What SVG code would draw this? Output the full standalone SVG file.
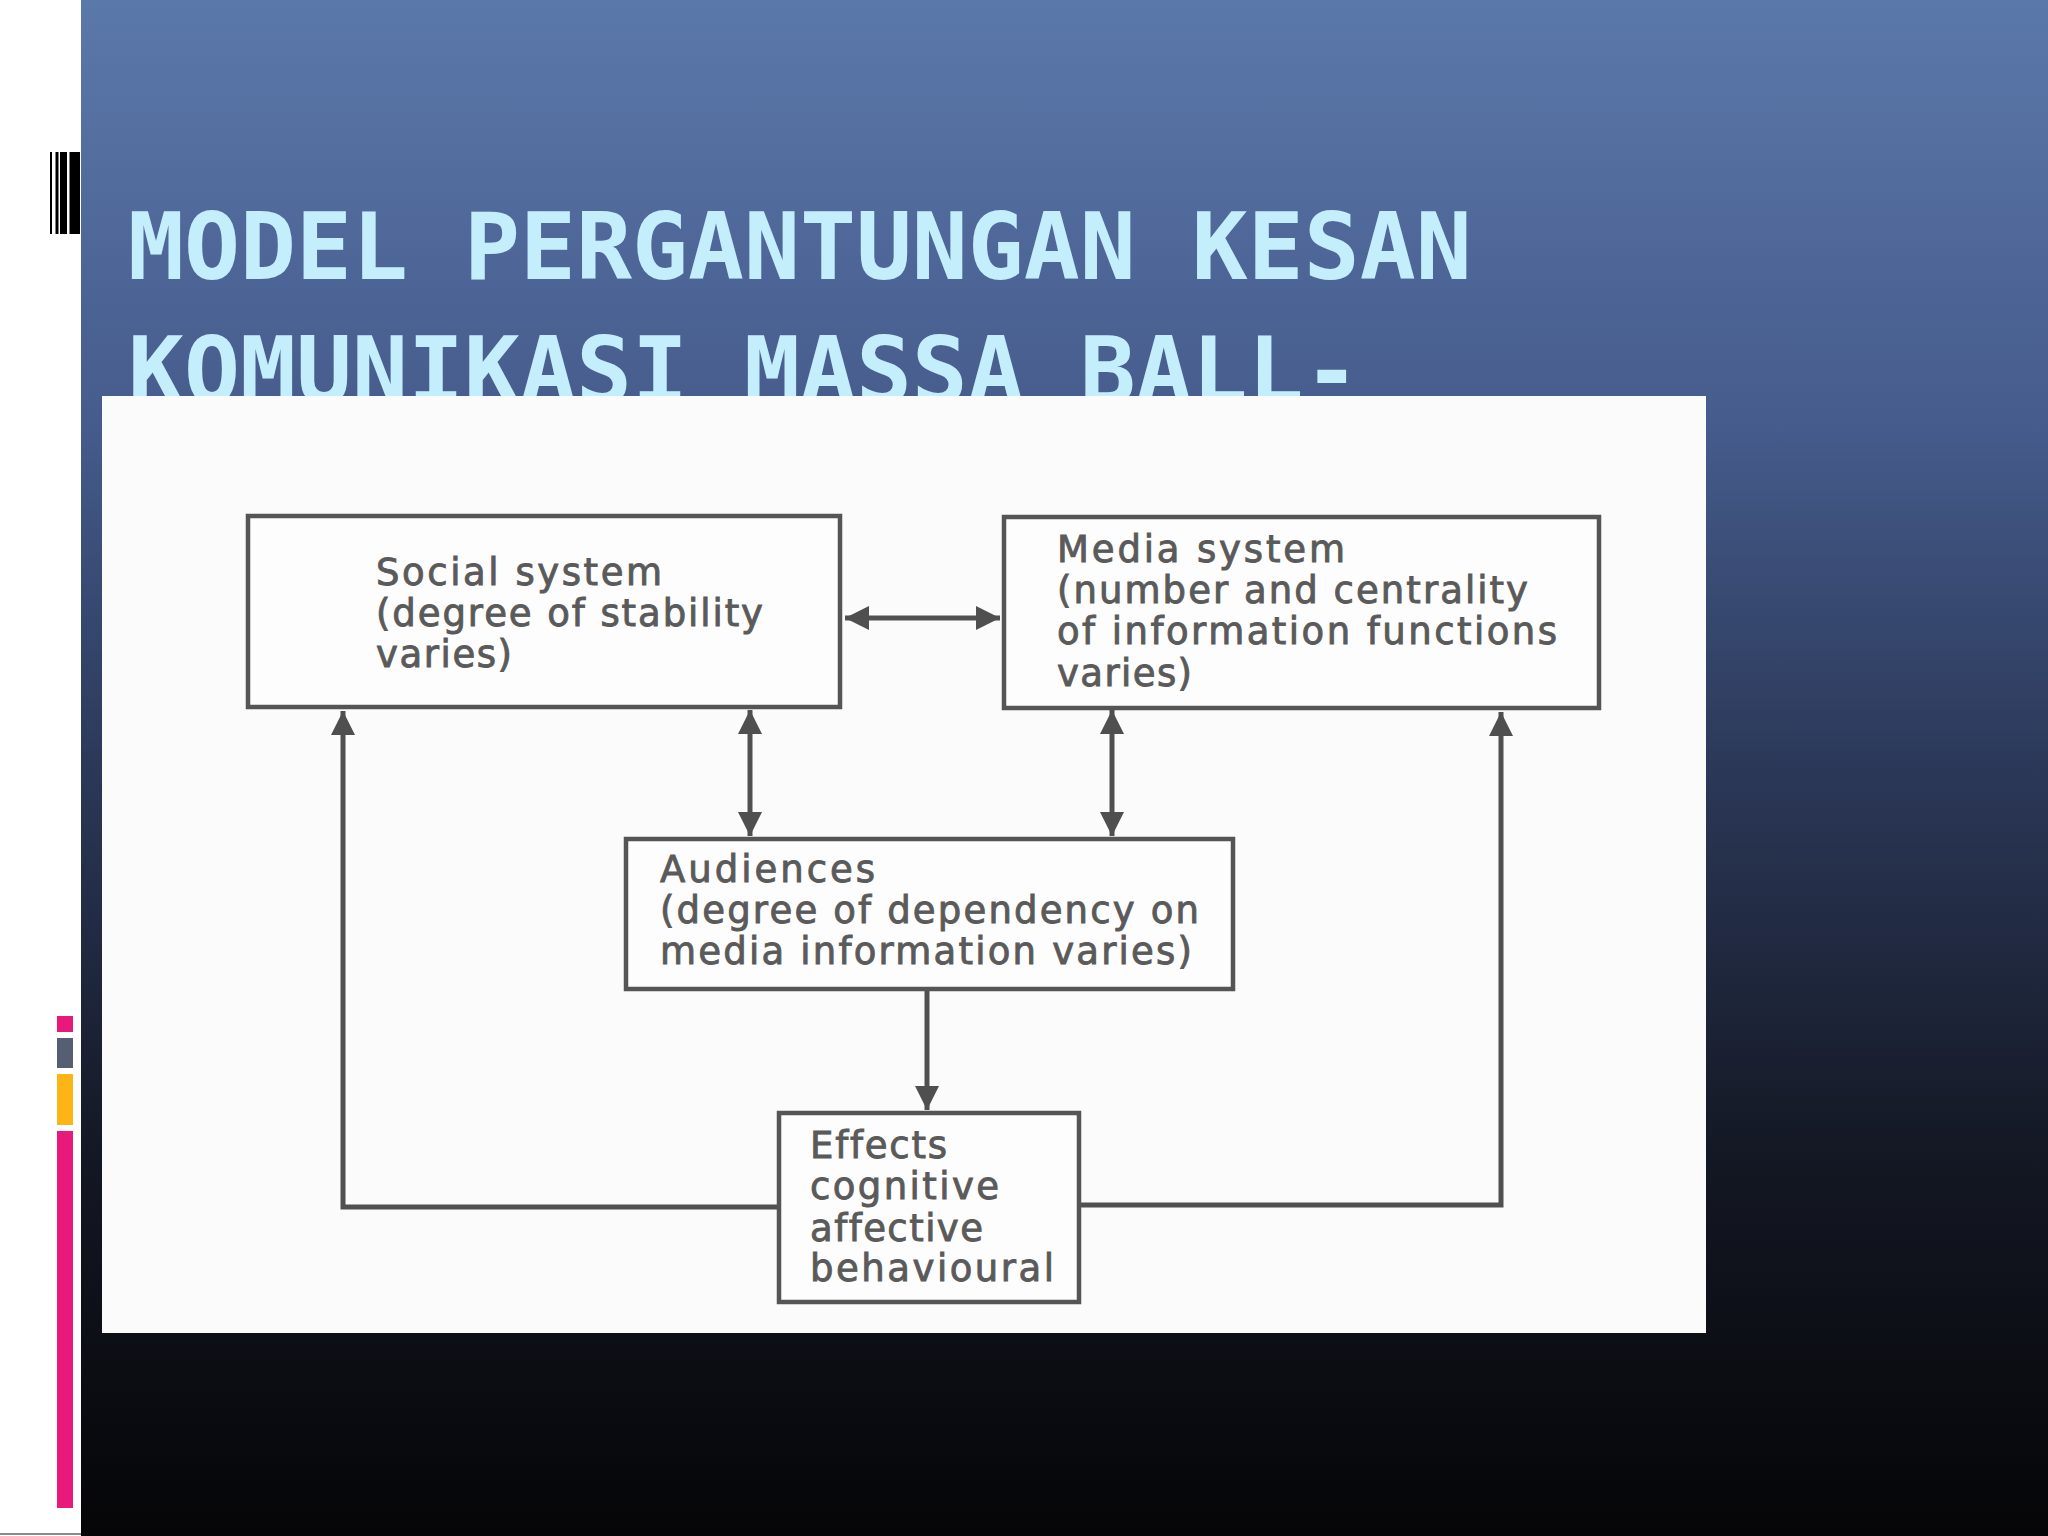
<svg xmlns="http://www.w3.org/2000/svg" width="2048" height="1536" viewBox="0 0 2048 1536">
  <defs>
    <linearGradient id="bg" x1="0" y1="0" x2="0" y2="1">
      <stop offset="0" stop-color="#5b78aa"/>
      <stop offset="0.28" stop-color="#455b8b"/>
      <stop offset="0.5" stop-color="#2b3858"/>
      <stop offset="0.75" stop-color="#141824"/>
      <stop offset="1" stop-color="#050507"/>
    </linearGradient>
    <marker id="arr" viewBox="0 0 10 10" refX="10" refY="5" markerUnits="userSpaceOnUse" markerWidth="26" markerHeight="24" orient="auto-start-reverse">
      <path d="M0,0 L10,5 L0,10 z" fill="#4f4f4f"/>
    </marker>
    <style>
      .title { font-family: "DejaVu Sans Mono", "Liberation Mono", monospace; font-weight: bold; font-size: 93px; fill: #c5eefc; }
      .box { fill: #fdfdfd; stroke: #555; stroke-width: 4.5; }
      .lbl { font-family: "DejaVu Sans", "Liberation Sans", sans-serif; font-size: 37px; fill: #5a5a5a; stroke: #5a5a5a; stroke-width: 0.9; font-variant-ligatures: none; }
      .conn { fill: none; stroke: #505050; stroke-width: 5; }
    </style>
  </defs>

  <!-- slide background -->
  <rect x="0" y="0" width="2048" height="1536" fill="url(#bg)"/>
  <rect x="0" y="0" width="81" height="1536" fill="#ffffff"/>
  <line x1="0" y1="1534" x2="81" y2="1534" stroke="#8a8a8a" stroke-width="2"/>

  <!-- barcode ornament -->
  <g id="barcode" fill="#000">
    <rect x="50" y="152" width="2" height="82"/>
    <rect x="55.5" y="152" width="3" height="82"/>
    <rect x="60" y="152" width="7" height="82"/>
    <rect x="69.5" y="152" width="10.5" height="82"/>
  </g>

  <!-- colour bars -->
  <g id="colorbars">
    <rect x="57" y="1016" width="16" height="16" fill="#e9197b"/>
    <rect x="57" y="1038" width="16" height="30" fill="#565e74"/>
    <rect x="57" y="1074" width="16" height="51" fill="#fdb515"/>
    <rect x="57" y="1131" width="16" height="377" fill="#e9197b"/>
  </g>

  <!-- title -->
  <g id="title">
    <text class="title" x="128" y="279">MODEL PERGANTUNGAN KESAN</text>
    <text class="title" x="128" y="403">KOMUNIKASI MASSA BALL-</text>
  </g>

  <!-- picture area -->
  <rect id="picture" x="102" y="396" width="1604" height="937" fill="#fbfbfb"/>

  <g id="connectors">
    <path class="conn" d="M845,618 H1000" marker-start="url(#arr)" marker-end="url(#arr)"/>
    <path class="conn" d="M750,710 V836" marker-start="url(#arr)" marker-end="url(#arr)"/>
    <path class="conn" d="M1112,710 V836" marker-start="url(#arr)" marker-end="url(#arr)"/>
    <path class="conn" d="M927,990 V1110" marker-end="url(#arr)"/>
    <path class="conn" d="M779,1207 H343 V711" marker-end="url(#arr)"/>
    <path class="conn" d="M1079,1205 H1501 V712" marker-end="url(#arr)"/>
  </g>

  <g id="social">
    <rect class="box" x="248" y="516" width="592" height="191"/>
    <text class="lbl" x="376" y="585" textLength="286" lengthAdjust="spacing">Social system</text>
    <text class="lbl" x="376" y="626" textLength="387" lengthAdjust="spacing">(degree of stability</text>
    <text class="lbl" x="376" y="667" textLength="136" lengthAdjust="spacing">varies)</text>
  </g>

  <g id="media">
    <rect class="box" x="1004" y="517" width="595" height="191"/>
    <text class="lbl" x="1057" y="562" textLength="288" lengthAdjust="spacing">Media system</text>
    <text class="lbl" x="1057" y="603" textLength="471" lengthAdjust="spacing">(number and centrality</text>
    <text class="lbl" x="1057" y="644" textLength="500" lengthAdjust="spacing">of information functions</text>
    <text class="lbl" x="1057" y="686" textLength="135" lengthAdjust="spacing">varies)</text>
  </g>

  <g id="audiences">
    <rect class="box" x="626" y="839" width="607" height="150"/>
    <text class="lbl" x="660" y="882" textLength="215" lengthAdjust="spacing">Audiences</text>
    <text class="lbl" x="660" y="923" textLength="539" lengthAdjust="spacing">(degree of dependency on</text>
    <text class="lbl" x="660" y="964" textLength="532" lengthAdjust="spacing">media information varies)</text>
  </g>

  <g id="effects">
    <rect class="box" x="779" y="1113" width="300" height="189"/>
    <text class="lbl" x="810" y="1158" textLength="137" lengthAdjust="spacing">Effects</text>
    <text class="lbl" x="810" y="1199" textLength="189" lengthAdjust="spacing">cognitive</text>
    <text class="lbl" x="810" y="1241" textLength="173" lengthAdjust="spacing">affective</text>
    <text class="lbl" x="810" y="1281" textLength="244" lengthAdjust="spacing">behavioural</text>
  </g>
</svg>
